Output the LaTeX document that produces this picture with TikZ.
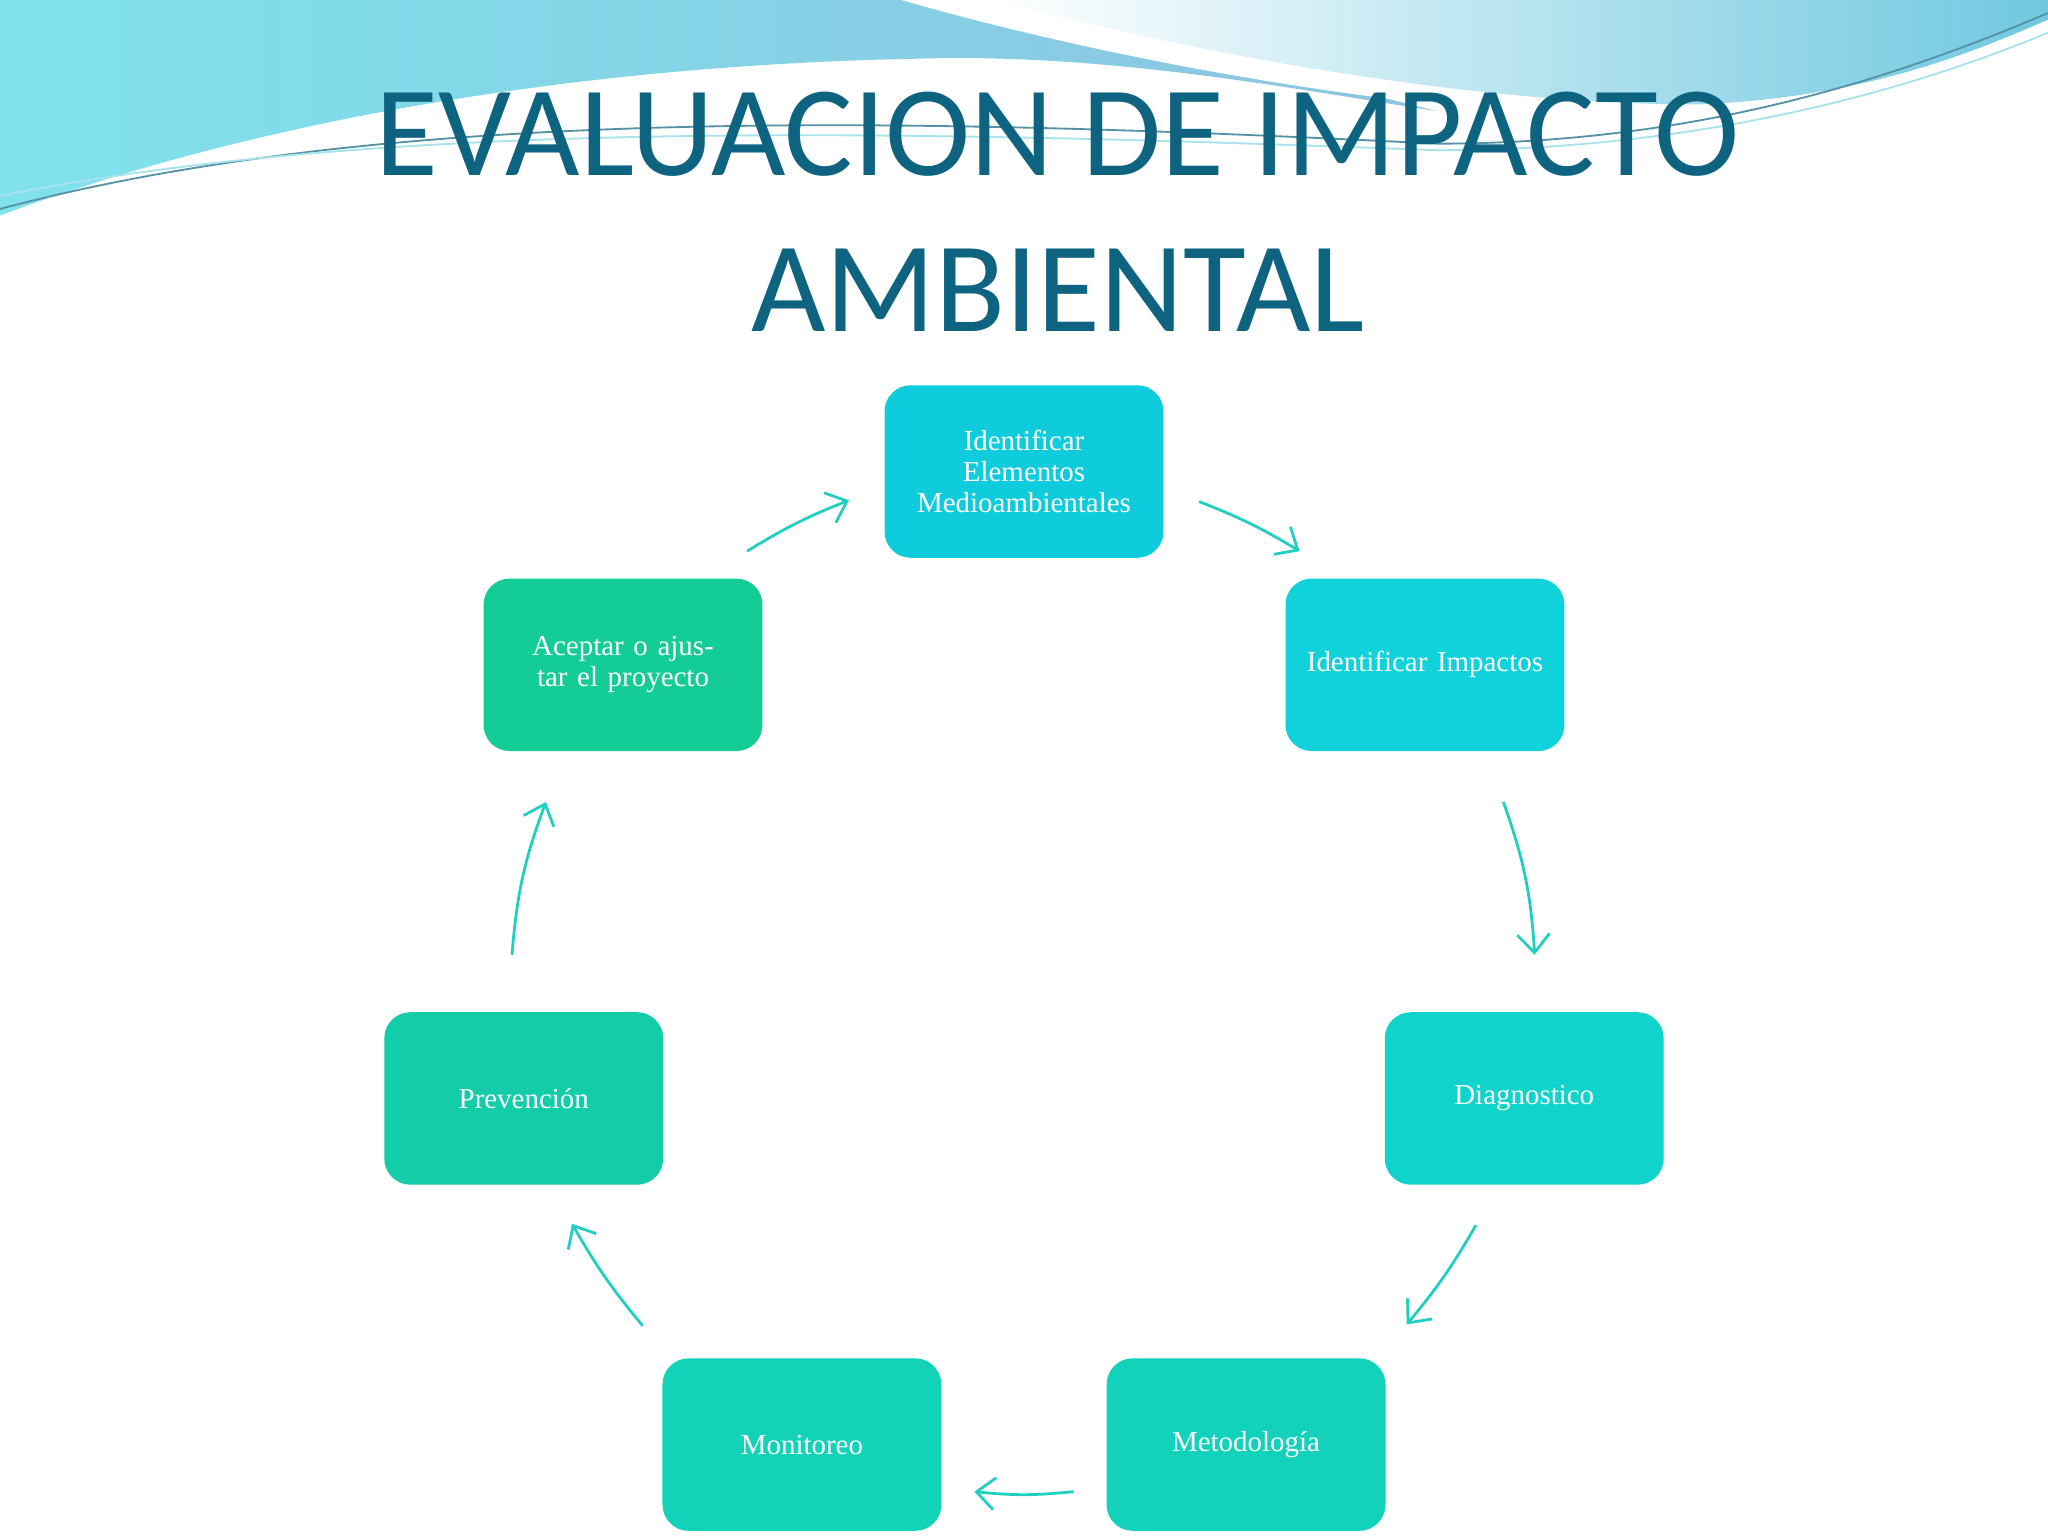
\documentclass[tikz,border=0pt]{standalone}
\usepackage{fontspec}
\newfontfamily\titlefont{Carlito}
\setmainfont{Liberation Serif}
\usetikzlibrary{arrows.meta}
\definecolor{titlec}{HTML}{0E6380}
\definecolor{c1}{HTML}{0FCCDC}
\definecolor{c2}{HTML}{0FD2DA}
\definecolor{c3}{HTML}{10D4CC}
\definecolor{c4}{HTML}{12D2BC}
\definecolor{c5}{HTML}{12D2B8}
\definecolor{c6}{HTML}{13CCA8}
\definecolor{c7}{HTML}{14CC96}
\definecolor{arr}{HTML}{1FD0C0}
\definecolor{wl}{HTML}{7FE2EC}
\definecolor{wr}{HTML}{8CC4E0}
\definecolor{wr2}{HTML}{A8E2EC}
\definecolor{wr3}{HTML}{70C8E0}
\begin{document}
\begin{tikzpicture}[x=0.01cm,y=-0.01cm,
 box/.style={draw=none,rounded corners=0.2cm,minimum width=2.06cm,minimum height=1.32cm,text width=1.9cm,align=center,text=white,font=\fontsize{6.3}{6.8}\selectfont},
 arrw/.style={draw=arr,line width=0.6pt,-{Straight Barb[length=4pt,width=7pt]}}]
\useasboundingbox (0,0) rectangle (1568,1176);
\fill[white] (0,0) rectangle (1568,1176);
% top waves
\shade[left color=wl,right color=wr] (0,0) -- (0,165) .. controls (200,90) and (450,50) .. (700,45) .. controls (850,40) and (1000,70) .. (1100,85) -- (760,0) -- cycle;
\fill[white] (690,0) .. controls (900,60) and (1150,95) .. (1300,90) .. controls (1420,80) and (1500,50) .. (1568,30) -- (1568,0) -- cycle;
\shade[left color=white,right color=wr3] (760,0) .. controls (950,50) and (1150,80) .. (1300,80) .. controls (1420,75) and (1500,45) .. (1568,15) -- (1568,0) -- cycle;
\draw[titlec!70,line width=0.4pt] (0,160) .. controls (300,80) and (700,90) .. (1100,110) .. controls (1300,110) and (1450,60) .. (1568,10);
\draw[wr2,line width=0.4pt] (0,150) .. controls (300,90) and (700,100) .. (1100,115) .. controls (1300,115) and (1460,70) .. (1568,25);
\node[font=\titlefont\fontsize{28}{34}\selectfont,text=titlec,align=center] (title) at (810,162) {EVALUACION DE IMPACTO\\AMBIENTAL};
% boxes
\node[box,fill=c1] (n1) at (784,361) {Identificar Elementos Medioambientales};
\node[box,fill=c2] (n2) at (1091,509) {Identificar Impactos};
\node[box,fill=c3] (n3) at (1167,841) {Diagnostico};
\node[box,fill=c4] (n4) at (954,1106) {Metodología};
\node[box,fill=c5] (n5) at (614,1106) {Monitoreo};
\node[box,fill=c6] (n6) at (401,841) {Prevención};
\node[box,fill=c7] (n7) at (477,509) {Aceptar o ajustar el proyecto};
% arrow endpoints
\coordinate (a1) at (918,384); \coordinate (b1) at (995,422);
\coordinate (a2) at (1151,614); \coordinate (b2) at (1175,731);
\coordinate (a3) at (1130,938); \coordinate (b3) at (1077,1014);
\coordinate (a4) at (822,1142); \coordinate (b4) at (746,1142);
\coordinate (a5) at (492,1015); \coordinate (b5) at (438,937);
\coordinate (a6) at (392,731); \coordinate (b6) at (418,614);
\coordinate (a7) at (572,422); \coordinate (b7) at (650,383);
\draw[arrw] (a1) to[bend left=5] (b1);
\draw[arrw] (a2) to[bend left=8] (b2);
\draw[arrw] (a3) to[bend left=5] (b3);
\draw[arrw] (a4) to[bend left=6] (b4);
\draw[arrw] (a5) to[bend left=5] (b5);
\draw[arrw] (a6) to[bend left=8] (b6);
\draw[arrw] (a7) to[bend left=5] (b7);
\end{tikzpicture}
\end{document}
